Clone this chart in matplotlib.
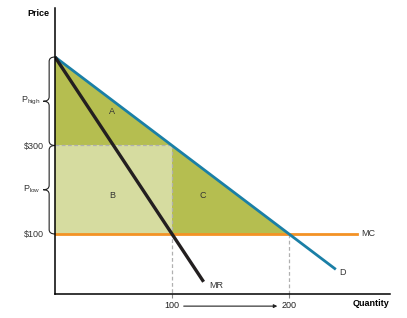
import numpy as np
import matplotlib
matplotlib.use("Agg")
import matplotlib.pyplot as plt
from matplotlib.path import Path
from matplotlib.patches import PathPatch, Polygon

plt.rcParams['font.family'] = ['Liberation Sans', 'DejaVu Sans']

# =========================
# Data
# =========================
q_demand = [0, 240]          # demand: P = 500 - 2Q
p_demand = [500, 20]
q_mr = [0, 127]              # marginal revenue: P = 500 - 4Q
p_mr = [500, -8]
q_mc = [0, 258]
p_mc = [100, 100]

p_high_range = [300, 500]
p_low_range = [100, 300]
q_ticks = [100, 200]
p_ticks = [100, 300]
p_tick_labels = ["$300", "$100"]

area_A = [(0, 500), (0, 300), (100, 300)]
area_B = [(0, 100), (0, 300), (100, 300), (100, 100)]
area_C = [(100, 300), (100, 100), (200, 100)]

dark_fill = "#b5be50"
light_fill = "#d6dca0"
blue = "#1a7fa6"
orange = "#f39225"

# =========================
# Figure
# =========================
fig = plt.figure(figsize=(4.07, 3.18), dpi=100)
ax = fig.add_axes([55 / 407, 24 / 318, 335 / 407, 286 / 318])
ax.set_xlim(0, 286.3)
ax.set_ylim(-35.6, 610.7)

ax.add_patch(Polygon(area_B, closed=True, facecolor=light_fill, edgecolor='none'))
ax.add_patch(Polygon(area_A, closed=True, facecolor=dark_fill, edgecolor='none'))
ax.add_patch(Polygon(area_C, closed=True, facecolor=dark_fill, edgecolor='none'))

# dashed guide lines
ax.plot([0, 100], [300, 300], color="#b0b0b0", lw=0.9, ls=(0, (3, 2)))
ax.plot([100, 100], [300, -35.6], color="#b0b0b0", lw=0.9, ls=(0, (3, 2)))
ax.plot([200, 200], [100, -35.6], color="#b0b0b0", lw=0.9, ls=(0, (3, 2)))

ax.plot(q_mc, p_mc, color=orange, lw=2)
ax.plot(q_demand, p_demand, color=blue, lw=2, solid_capstyle='butt')
ax.plot(q_mr, p_mr, color="#231f20", lw=2.4, solid_capstyle='butt')

# axes styling
for s in ['top', 'right']:
    ax.spines[s].set_visible(False)
for s in ['left', 'bottom']:
    ax.spines[s].set_linewidth(1.1)
ax.set_xticks(q_ticks)
ax.set_xticklabels([str(q) for q in q_ticks], fontsize=6.5, color="#222222")
ax.tick_params(axis='x', length=3, width=0.8, color="#888888", pad=2)
ax.set_yticks(p_ticks[::-1])
ax.set_yticklabels(p_tick_labels, fontsize=6.5, color="#333333")
ax.tick_params(axis='y', length=0, pad=8)


# curly braces on the price axis
def brace(y0, y1, x_end=0, x_mid=-5, x_tip=-10, r=10):
    ym = (y0 + y1) / 2
    verts = [(x_end, y1), (x_mid, y1), (x_mid, y1 - r),
             (x_mid, ym + r),
             (x_mid, ym), (x_tip, ym),
             (x_mid, ym), (x_mid, ym - r),
             (x_mid, y0 + r),
             (x_mid, y0), (x_end, y0)]
    codes = [Path.MOVETO, Path.CURVE3, Path.CURVE3,
             Path.LINETO,
             Path.CURVE3, Path.CURVE3,
             Path.CURVE3, Path.CURVE3,
             Path.LINETO,
             Path.CURVE3, Path.CURVE3]
    ax.add_patch(PathPatch(Path(verts, codes), facecolor='none',
                           edgecolor='#222222', lw=0.8, clip_on=False))


brace(*p_high_range)
brace(*p_low_range)

ax.text(-12, 400, r"P$_{\mathregular{high}}$", fontsize=6.5, ha='right', va='center',
        color="#333333")
ax.text(-12, 200, r"P$_{\mathregular{low}}$", fontsize=6.5, ha='right', va='center',
        color="#333333")

ax.text(-14.5, 599, "Price", fontsize=6.5, fontweight='bold', ha='center', va='center')
ax.text(286, -56, "Quantity", fontsize=6.5, fontweight='bold', ha='right', va='center')

ax.text(48.7, 376, "A", fontsize=6.5, ha='center', va='center', color="#333333")
ax.text(48.7, 186, "B", fontsize=6.5, ha='center', va='center', color="#333333")
ax.text(126.5, 186, "C", fontsize=6.5, ha='center', va='center', color="#333333")
ax.text(132, -17, "MR", fontsize=6.5, ha='left', va='center', color="#333333")
ax.text(243, 12, "D", fontsize=6.5, ha='left', va='center', color="#333333")
ax.text(261.5, 100, "MC", fontsize=6.5, ha='left', va='center', color="#333333")

ax.annotate("", xy=(190, -63), xytext=(110, -63), annotation_clip=False,
            arrowprops=dict(arrowstyle='-|>', color='#222222', lw=0.8,
                            mutation_scale=5, shrinkA=0, shrinkB=0))

fig.savefig("out.png", dpi=100)
